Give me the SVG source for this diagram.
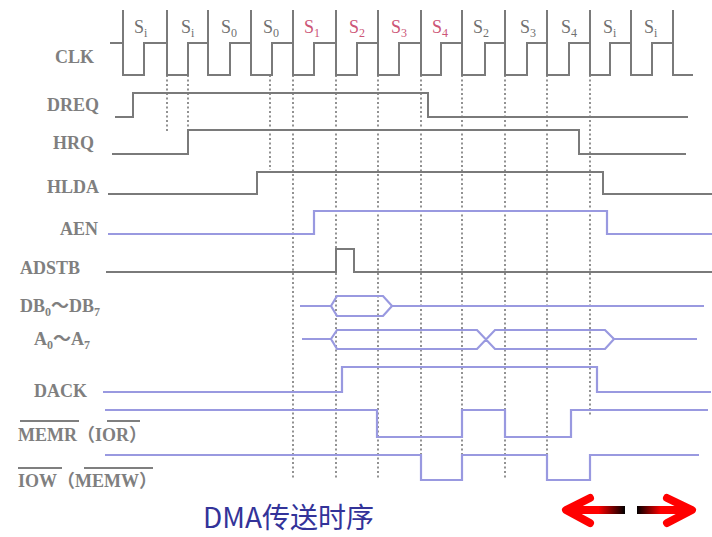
<svg xmlns="http://www.w3.org/2000/svg" width="712" height="537" viewBox="0 0 712 537">
<style>
.g{fill:none;stroke:#7a7a7a;stroke-width:2}
.b{fill:none;stroke:#9999e0;stroke-width:2.2}
.d{fill:none;stroke:#777;stroke-width:1.6;stroke-dasharray:2,2.5}
.l{font-family:"Liberation Serif","Noto Sans CJK SC",serif;font-weight:bold;font-size:18px;fill:#7f7f7f}
.s{font-family:"Liberation Serif",serif;font-size:18px;fill:#707070}
.r{fill:#cc5577}
.ov{stroke:#7f7f7f;stroke-width:2}
</style>
<defs>
<linearGradient id="gl" gradientUnits="userSpaceOnUse" x1="572" y1="0" x2="625" y2="0"><stop offset="0.5" stop-color="#f00"/><stop offset="1" stop-color="#000"/></linearGradient>
<linearGradient id="gr" gradientUnits="userSpaceOnUse" x1="637" y1="0" x2="690" y2="0"><stop offset="0" stop-color="#000"/><stop offset="0.45" stop-color="#f00"/></linearGradient>
</defs>
<g id="connectors">
<g id="dotted">
<path class="d" d="M167 75V132M188 75V128M270 75V170M293 75V478M336 75V478M378 75V478M421 75V478M462 75V478M505 75V478M547 75V478M590 75V415"/>
</g>
<g id="clk-wave">
<path class="g" d="M110 43H123V75H144V43H167V75H188V43H208V75H230V43H251V75H272V43H293V75H314V43H336V75H357V43H378V75H399V43H421V75H441V43H462V75H485V43H505V75H527V43H547V75H569V43H590V75H610V43H631V75H652V43H673V75H693"/>
<path class="g" d="M123 10V43M167 10V43M208 10V43M251 10V43M293 10V43M336 10V43M378 10V43M421 10V43M462 10V43M505 10V43M547 10V43M590 10V43M631 10V43M673 10V43"/>
</g>
<path id="dreq-wave" class="g" d="M115 117H133V93H428V117H688"/>
<path id="hrq-wave" class="g" d="M112 154H188V130H579V154H686"/>
<path id="hlda-wave" class="g" d="M108 194H257V172H603V194H712"/>
<path id="aen-wave" class="b" d="M108 234H314V211H607V234H712"/>
<path id="adstb-wave" class="g" d="M106 272H336V249H354V272H712"/>
<path id="db-wave" class="b" d="M300 306H331L337 296H383L392 306H704M331 306L337 316H383L392 306"/>
<path id="a-wave" class="b" d="M302 339H331L337 330H477L495 349H605L614 339H697M331 339L337 349H477L495 330H605L614 339"/>
<path id="dack-wave" class="b" d="M103 392H342V367H597V392H711"/>
<path id="memr-wave" class="b" d="M105 410H377V437H462V410H505V437H571V410H708"/>
<path id="iow-wave" class="b" d="M105 455H421V480H462V455H547V480H590V455H699"/>
</g>
<g id="clk-labels">
<text class="s" x="134" y="33">S<tspan font-size="12" dy="4">i</tspan></text>
<text class="s" x="181" y="33">S<tspan font-size="12" dy="4">i</tspan></text>
<text class="s" x="221" y="33">S<tspan font-size="12" dy="4">0</tspan></text>
<text class="s" x="263" y="33">S<tspan font-size="12" dy="4">0</tspan></text>
<text class="s r" x="304" y="33">S<tspan font-size="12" dy="4">1</tspan></text>
<text class="s r" x="349" y="33">S<tspan font-size="12" dy="4">2</tspan></text>
<text class="s r" x="391" y="33">S<tspan font-size="12" dy="4">3</tspan></text>
<text class="s r" x="432" y="33">S<tspan font-size="12" dy="4">4</tspan></text>
<text class="s" x="473" y="33">S<tspan font-size="12" dy="4">2</tspan></text>
<text class="s" x="520" y="33">S<tspan font-size="12" dy="4">3</tspan></text>
<text class="s" x="561" y="33">S<tspan font-size="12" dy="4">4</tspan></text>
<text class="s" x="603" y="33">S<tspan font-size="12" dy="4">i</tspan></text>
<text class="s" x="644" y="33">S<tspan font-size="12" dy="4">i</tspan></text>
</g>
<g id="CLK"><text class="l" x="55" y="63">CLK</text></g>
<g id="DREQ"><text class="l" x="47" y="111">DREQ</text></g>
<g id="HRQ"><text class="l" x="53" y="149">HRQ</text></g>
<g id="HLDA"><text class="l" x="47" y="193">HLDA</text></g>
<g id="AEN"><text class="l" x="60" y="235">AEN</text></g>
<g id="ADSTB"><text class="l" x="20" y="274">ADSTB</text></g>
<g id="DB"><text class="l" x="20" y="312">DB<tspan font-size="12" dy="4">0</tspan><tspan dy="-4">～DB</tspan><tspan font-size="12" dy="4">7</tspan></text></g>
<g id="A"><text class="l" x="34" y="345">A<tspan font-size="12" dy="4">0</tspan><tspan dy="-4">～A</tspan><tspan font-size="12" dy="4">7</tspan></text></g>
<g id="DACK"><text class="l" x="34" y="397">DACK</text></g>
<g id="MEMR"><text class="l" x="18" y="441">MEMR（IOR）</text><path class="ov" d="M20 421H79M107 421H140"/></g>
<g id="IOW"><text class="l" x="18" y="487">IOW（MEMW）</text><path class="ov" d="M18 468H62M84 468H153"/></g>
<g id="title"><text x="203" y="528" font-family="Noto Sans CJK SC, sans-serif" font-size="28" fill="#333399">DMA传送时序</text></g>
<g id="arrows">
<path d="M572 510H625" stroke="url(#gl)" stroke-width="8" fill="none"/>
<path d="M590 498L566 510L590 523" stroke="#f00" stroke-width="8" fill="none" stroke-linecap="round" stroke-linejoin="round"/>
<path d="M637 510H688" stroke="url(#gr)" stroke-width="8" fill="none"/>
<path d="M667 498L692 510L667 523" stroke="#f00" stroke-width="8" fill="none" stroke-linecap="round" stroke-linejoin="round"/>
</g>
</svg>
